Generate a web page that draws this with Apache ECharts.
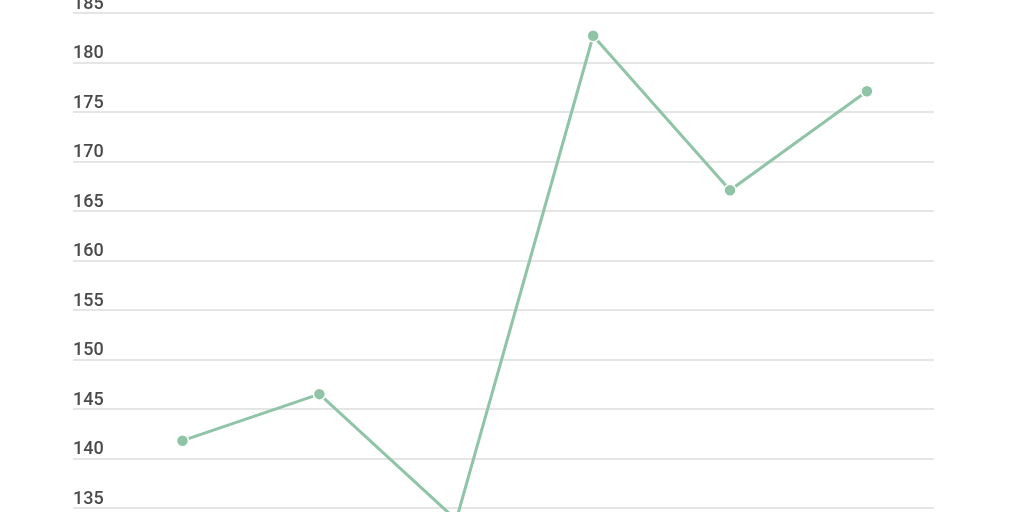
<!DOCTYPE html>
<html>
	<head>
        <meta charset="utf-8" />
		<title>line</title>
        <script src="https://cdn.jsdelivr.net/npm/echarts@6/dist/echarts.min.js"></script>
        <style>
            html, body { margin: 0; padding: 0; background: #fff; }
        </style>
	</head>
	<body>

       <div id="main" style="width:1024px;height:512px"></div>

    <script>
      // categories are not visible in the picture, only their positions
      var categories = ['1', '2', '3', '4', '5', '6'];
      var values = [141.8, 146.5, 133.8, 182.7, 167.1, 177.1];
      var yTicks = [135, 140, 145, 150, 155, 160, 165, 170, 175, 180, 185];

      var points = [];
      for (var i = 0; i < categories.length; i++) {
          points.push([i, values[i]]);
      }

      var option = {
          animation: false,
          backgroundColor: '#ffffff',
          grid: {
              left: 73,
              right: 90,
              top: 13,
              bottom: 4,
              containLabel: false,
              outerBoundsMode: 'none'
          },
          xAxis: {
              type: 'value',
              min: -0.8,
              max: 5.49,
              show: false
          },
          yAxis: {
              type: 'value',
              min: yTicks[0],
              max: yTicks[yTicks.length - 1],
              interval: 5,
              axisLine: { show: false },
              axisTick: { show: false },
              axisLabel: {
                  inside: true,
                  margin: 0,
                  color: '#4a4a4a',
                  fontFamily: 'Roboto',
                  fontWeight: 500,
                  fontSize: 18,
                  verticalAlign: 'bottom',
                  lineHeight: 18,
                  padding: [0, 0, 0, 0]
              },
              splitLine: {
                  lineStyle: { color: '#dddddd', width: 1.5 }
              }
          },
          series: [{
              type: 'line',
              data: points,
              clip: false,
              symbol: 'circle',
              symbolSize: 12,
              lineStyle: { color: '#8fc4a6', width: 3 },
              itemStyle: { color: '#8fc4a6', borderColor: '#ffffff', borderWidth: 1.5 }
          }]
      };

      var myChart = echarts.init(document.getElementById('main'));
      myChart.setOption(option);
    </script>
	</body>
</html>
